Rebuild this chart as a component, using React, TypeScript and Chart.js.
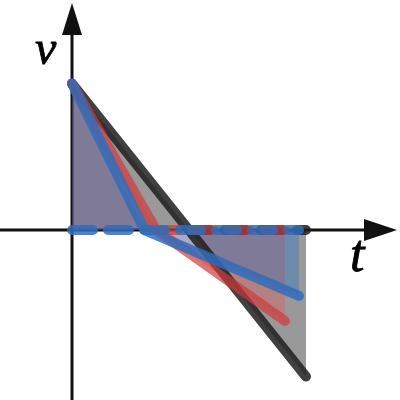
import { useEffect, useRef } from 'react';
import { Chart, registerables } from 'chart.js';

Chart.register(...registerables);

// velocity–time sketch: exact line (black) and two approximations (red, blue)
const blackT = [0, 10];
const blackV = [10, -10];
const redT = [0, 3.6, 9.1];
const redV = [10, 0, -6.2];
const blueT = [0, 3.1, 9.7];
const blueV = [10, 0, -4.5];

// stretches of the t axis traced by each series
const blackZeroT = [5, 10];
const redZeroT = [3.6, 9.1];
const blueZeroT = [0, 9.7];

const toPoints = (ts: number[], vs: number[]) => ts.map((t, i) => ({ x: t, y: vs[i] }));
const zeroPoints = (ts: number[]) => ts.map((t) => ({ x: t, y: 0 }));

const BLUE = 'rgba(50, 108, 185, 0.85)';
const RED = 'rgba(205, 60, 60, 0.7)';
const BLACK = 'rgba(30, 30, 30, 0.85)';

const axesPlugin = {
  id: 'arrowAxes',
  beforeDraw(chart: Chart) {
    const { ctx, width, height } = chart;
    const x0 = chart.scales.x.getPixelForValue(0);
    const y0 = chart.scales.y.getPixelForValue(0);
    ctx.save();
    ctx.strokeStyle = '#111';
    ctx.fillStyle = '#111';
    ctx.lineWidth = 3;
    ctx.beginPath();
    ctx.moveTo(x0, height);
    ctx.lineTo(x0, 30);
    ctx.moveTo(0, y0);
    ctx.lineTo(width - 30, y0);
    ctx.stroke();
    // arrow heads
    ctx.beginPath();
    ctx.moveTo(x0, 3);
    ctx.lineTo(x0 - 10, 35);
    ctx.lineTo(x0 + 10, 35);
    ctx.closePath();
    ctx.fill();
    ctx.beginPath();
    ctx.moveTo(width - 3, y0);
    ctx.lineTo(width - 36, y0 - 11);
    ctx.lineTo(width - 36, y0 + 11);
    ctx.closePath();
    ctx.fill();
    ctx.restore();
  },
};

function VTChart() {
  const canvasRef = useRef<HTMLCanvasElement>(null);
  const chartRef = useRef<Chart | null>(null);

  useEffect(() => {
    if (!canvasRef.current) return;
    if (chartRef.current) chartRef.current.destroy();

    const line = {
      borderWidth: 10,
      pointRadius: 0,
      borderCapStyle: 'round' as const,
      borderJoinStyle: 'round' as const,
      tension: 0,
    };
    const dash = { ...line, fill: false, borderDash: [21, 15] };

    chartRef.current = new Chart(canvasRef.current, {
      type: 'line',
      data: {
        datasets: [
          { ...dash, data: zeroPoints(blueZeroT), borderColor: BLUE },
          { ...dash, data: zeroPoints(redZeroT), borderColor: RED },
          { ...dash, data: zeroPoints(blackZeroT), borderColor: BLACK },
          {
            ...line,
            data: toPoints(blueT, blueV),
            borderColor: BLUE,
            fill: 'origin',
            backgroundColor: 'rgba(30, 112, 200, 0.35)',
          },
          {
            ...line,
            data: toPoints(redT, redV),
            borderColor: RED,
            fill: 'origin',
            backgroundColor: 'rgba(245, 70, 70, 0.3)',
          },
          {
            ...line,
            data: toPoints(blackT, blackV),
            borderColor: BLACK,
            fill: 'origin',
            backgroundColor: 'rgba(0, 0, 0, 0.4)',
          },
        ],
      },
      options: {
        responsive: false,
        animation: false,
        layout: { padding: 0 },
        plugins: {
          legend: { display: false },
          tooltip: { enabled: false },
          filler: { drawTime: 'beforeDatasetsDraw' },
        },
        scales: {
          x: { type: 'linear', min: -3.077, max: 14.017, display: false },
          y: { type: 'linear', min: -11.6, max: 15.7, display: false },
        },
      },
      plugins: [axesPlugin],
    });

    return () => {
      if (chartRef.current) {
        chartRef.current.destroy();
        chartRef.current = null;
      }
    };
  }, []);

  const label = {
    position: 'absolute' as const,
    fontFamily: '"Liberation Serif", serif',
    fontStyle: 'italic',
    lineHeight: 1,
    color: '#000',
    WebkitTextStroke: '0.8px #000',
  };

  return (
    <div style={{ position: 'absolute', left: 0, top: 0, width: 400, height: 400, background: '#fff' }}>
      <canvas ref={canvasRef} width={400} height={400} style={{ width: 400, height: 400 }} />
      <span style={{ ...label, left: 35, top: 24, fontSize: 48 }}>v</span>
      <span style={{ ...label, left: 350, top: 228, fontSize: 52 }}>t</span>
    </div>
  );
}

export default function App() {
  return <VTChart />;
}
